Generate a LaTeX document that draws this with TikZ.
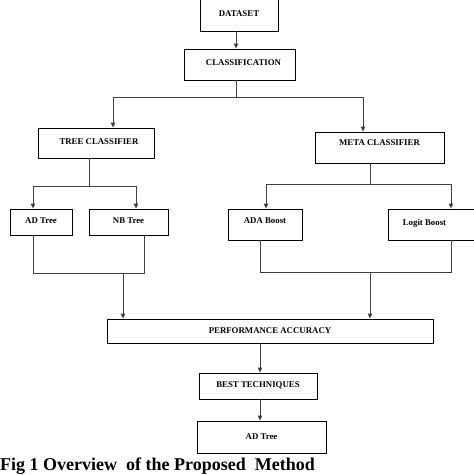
\documentclass[tikz,border=0pt]{standalone}
\usepackage{fontspec}
\setmainfont{Liberation Serif}
\usetikzlibrary{arrows.meta}
\begin{document}
\begin{tikzpicture}[x=1pt,y=-1pt,
 box/.style={draw=black,line width=0.9pt,inner sep=0pt,font=\bfseries\fontsize{8.8}{10}\selectfont},
 conn/.style={draw=black!75,line width=0.9pt},
 arr/.style={conn,-{Triangle[length=5pt,width=4.5pt]}}]
\useasboundingbox (0,0) rectangle (474,475);
\node[box,minimum width=78pt,minimum height=34pt] (ds) at (239,14) {DATASET};
\node[box,minimum width=111pt,minimum height=31pt,text depth=4pt] (cls) at (239.5,64.5) {\kern8pt CLASSIFICATION};
\node[box,minimum width=116pt,minimum height=30pt,text depth=2pt] (tc) at (96,143) {\kern6pt TREE CLASSIFIER};
\node[box,minimum width=129pt,minimum height=31pt,text depth=10pt] (mc) at (379.5,147.5) {META CLASSIFIER};
\node[box,minimum width=62pt,minimum height=26pt,text depth=2pt] (ad) at (41,222) {AD Tree};
\node[box,minimum width=79pt,minimum height=26pt,text depth=2pt] (nb) at (128.5,222) {NB Tree};
\node[box,minimum width=74pt,minimum height=31pt,text depth=8pt] (ada) at (265,224.5) {ADA Boost};
\node[box,minimum width=89pt,minimum height=31pt,text depth=4pt] (lb) at (432.5,224.5) {Logit Boost\kern16pt\relax};
\node[box,minimum width=326pt,minimum height=24pt] (pa) at (270,331) {PERFORMANCE ACCURACY};
\node[box,minimum width=118pt,minimum height=26pt,text depth=2pt] (bt) at (258,386) {BEST TECHNIQUES};
\node[box,minimum width=129pt,minimum height=32pt] (fin) at (261.5,437) {AD Tree};
\node[anchor=base west,inner sep=0pt,font=\bfseries\fontsize{18}{20}\selectfont] (cap) at (0,470) {Fig 1 Overview~ of the Proposed~ Method};
% dataset -> classification
\coordinate (d0) at (236,31);
\draw[arr] (d0) -- (d0 |- cls.north);
% classification split
\coordinate (j1) at (236,97.7);
\coordinate (h1L) at (113,97.7);
\coordinate (h1R) at (363,97.7);
\draw[conn] (cls.south -| j1) -- (j1);
\draw[arr] (j1) -- (h1L) -- (h1L |- tc.north);
\draw[arr] (j1) -- (h1R) -- (h1R |- mc.north);
% tree classifier split
\coordinate (j2) at (89,186);
\coordinate (h2L) at (33,186);
\coordinate (h2R) at (136,186);
\draw[conn] (tc.south -| j2) -- (j2);
\draw[arr] (j2) -- (h2L) -- (h2L |- ad.north);
\draw[arr] (j2) -- (h2R) -- (h2R |- nb.north);
% meta classifier split
\coordinate (j3) at (370,184);
\coordinate (h3L) at (266,184);
\coordinate (h3R) at (451,184);
\draw[conn] (mc.south -| j3) -- (j3);
\draw[arr] (j3) -- (h3L) -- (h3L |- ada.north);
\draw[arr] (j3) -- (h3R) -- (h3R |- lb.north);
% merge left
\coordinate (m1L) at (33,273);
\coordinate (m1R) at (144,273);
\coordinate (m1) at (123,273);
\draw[conn] (ad.south -| m1L) -- (m1L) -- (m1R) -- (nb.south -| m1R);
\draw[arr] (m1) -- (m1 |- pa.north);
% merge right
\coordinate (m2L) at (260,272);
\coordinate (m2R) at (451,272);
\coordinate (m2) at (370,272);
\draw[conn] (ada.south -| m2L) -- (m2L) -- (m2R) -- (lb.south -| m2R);
\draw[arr] (m2) -- (m2 |- pa.north);
% bottom chain
\coordinate (c1) at (260,343);
\draw[arr] (c1) -- (c1 |- bt.north);
\draw[arr] (bt.south -| c1) -- (c1 |- fin.north);
\end{tikzpicture}
\end{document}
